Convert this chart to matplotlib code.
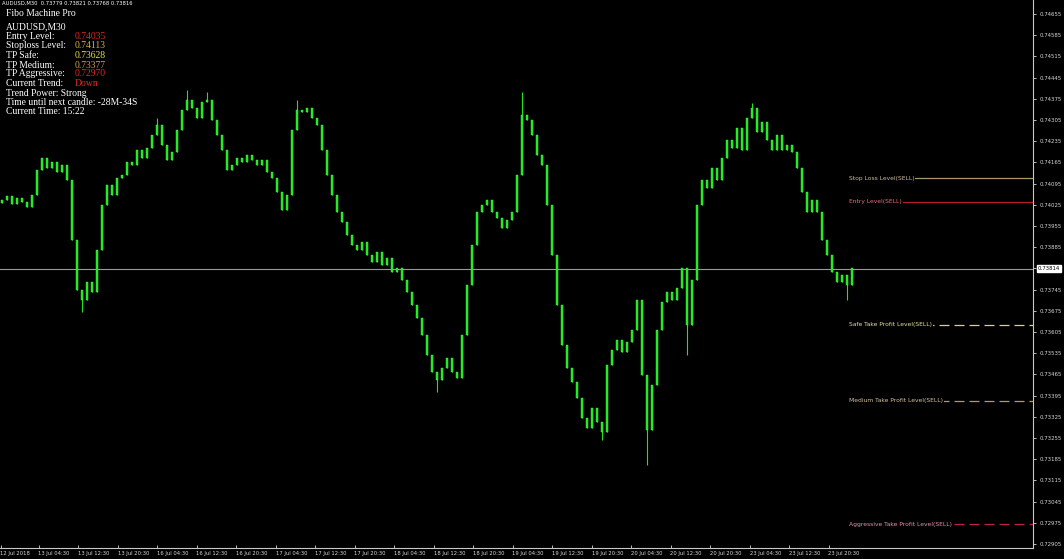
import matplotlib
matplotlib.use("Agg")
import matplotlib.pyplot as plt
import matplotlib.transforms as mtransforms
import numpy as np

# ---------------- data ----------------
symbol_header = "AUDUSD,M30  0.73779 0.73821 0.73768 0.73816"

# close prices (in points, price * 1e5), one per candle
closes_pts = [
    74041, 74054, 74027, 74047, 74034, 74018, 74057, 74140, 74179, 74146,
    74166, 74133, 74156, 74107, 73909, 73743, 73710, 73770, 73737, 73876,
    74024, 74090, 74057, 74113, 74123, 74166, 74156, 74206, 74179, 74212,
    74255, 74288, 74222, 74173, 74199, 74272, 74338, 74371, 74344, 74311,
    74364, 74371, 74305, 74255, 74206, 74140, 74156, 74179, 74166, 74189,
    74173, 74156, 74173, 74133, 74113, 74067, 74008, 74057, 74272, 74338,
    74331, 74344, 74311, 74288, 74206, 74123, 74057, 74001, 73968, 73925,
    73892, 73876, 73902, 73859, 73836, 73869, 73826, 73849, 73803, 73816,
    73776, 73737, 73694, 73651, 73595, 73529, 73473, 73446, 73486, 73519,
    73473, 73453, 73595, 73760, 73892, 74001, 74024, 74041, 74001, 73981,
    73948, 73975, 74001, 74123, 74321, 74305, 74255, 74189, 74156, 74024,
    73859, 73694, 73562, 73486, 73440, 73387, 73321, 73288, 73354, 73308,
    73275, 73496, 73545, 73578, 73539, 73572, 73611, 73710, 73463, 73281,
    73430, 73611, 73704, 73737, 73710, 73750, 73816, 73628, 73776, 74024,
    74107, 74080, 74146, 74107, 74179, 74239, 74212, 74278, 74206, 74311,
    74344, 74265, 74298, 74239, 74206, 74255, 74206, 74222, 74199, 74146,
    74067, 74001, 74041, 74001, 73909, 73859, 73803, 73770, 73793, 73760,
    73816,
]
# notable wick extremes (candle index -> price points)
spike_highs = {31: 74311, 37: 74404, 41: 74397, 59: 74371, 104: 74397, 150: 74361}
spike_lows = {16: 73671, 87: 73407, 120: 73248, 129: 73166, 137: 73529, 169: 73710}

current_price = 0.73814

level_names = ["Stop Loss Level(SELL)", "Entry Level(SELL)", "Safe Take Profit Level(SELL)",
               "Medium Take Profit Level(SELL)", "Aggressive Take Profit Level(SELL)"]
level_values = [0.74113, 0.74035, 0.73628, 0.73377, 0.72970]
level_colors = ["#a89868", "#b81c2c", "#d8d08c", "#b8966c", "#c02050"]
level_text_colors = ["#c8bc98", "#e07080", "#e8e0a0", "#d8c0a0", "#e890b0"]
level_styles = ["-", "-", (0, (8, 4)), (0, (8, 4)), (0, (8, 4))]

time_labels = ["12 Jul 2018", "13 Jul 04:30", "13 Jul 12:30", "13 Jul 20:30", "16 Jul 04:30",
               "16 Jul 12:30", "16 Jul 20:30", "17 Jul 04:30", "17 Jul 12:30", "17 Jul 20:30",
               "18 Jul 04:30", "18 Jul 12:30", "18 Jul 20:30", "19 Jul 04:30", "19 Jul 12:30",
               "19 Jul 20:30", "20 Jul 04:30", "20 Jul 12:30", "20 Jul 20:30", "23 Jul 04:30",
               "23 Jul 12:30", "23 Jul 20:30"]

info_labels = ["AUDUSD,M30", "Entry Level:", "Stoploss Level:", "TP Safe:", "TP Medium:",
               "TP Aggressive:", "Current Trend:", "Trend Power: Strong",
               "Time until next candle: -28M-34S", "Current Time: 15:22"]
info_values = ["", "0.74035", "0.74113", "0.73628", "0.73377", "0.72970", "Down", "", "", ""]
info_value_colors = ["white", "#e02828", "#d8b040", "#e8e048", "#d0a050", "#e02828", "#e02828",
                     "white", "white", "white"]

# ---------------- figure ----------------
W, H = 1064, 559
fig = plt.figure(figsize=(W / 100, H / 100), dpi=100, facecolor="black")
ax = fig.add_axes([0, 11 / H, 1033 / W, 548 / H], facecolor="black")

closes = np.array(closes_pts) / 1e5
opens = np.concatenate([[closes[0] - 0.00010], closes[:-1]])
n = len(closes)
idx = np.arange(n)
highs = np.maximum(opens, closes)
lows = np.minimum(opens, closes)
for k, v in spike_highs.items():
    highs[k] = max(highs[k], v / 1e5)
for k, v in spike_lows.items():
    lows[k] = min(lows[k], v / 1e5)

green = "#1ee61e"
ax.vlines(idx, lows, highs, color=green, linewidth=0.8, zorder=3)
body_h = np.maximum(np.abs(closes - opens), 0.00002)
ax.bar(idx, body_h, bottom=np.minimum(opens, closes), width=0.4, color=green,
       edgecolor="#40ff40", linewidth=0.3, zorder=4)

x_right = 206.2
ax.set_xlim(-0.4, x_right)
ax.set_ylim(0.728915, 0.74701)

# current price line
ax.axhline(current_price, color="#9a9a9a", linewidth=0.8, zorder=2)

# level lines with labels
lvl_x = 169.4
for name, val, col, tcol, ls in zip(level_names, level_values, level_colors,
                                     level_text_colors, level_styles):
    ax.plot([lvl_x, x_right], [val, val], color=col, linestyle=ls, linewidth=0.9, zorder=2)
    ax.text(lvl_x, val, name, color=tcol, fontsize=4.3, va="center", ha="left", zorder=5,
            bbox=dict(facecolor="black", edgecolor="none", pad=0.6))

# axes styling
for s in ["left", "top"]:
    ax.spines[s].set_visible(False)
for s in ["right", "bottom"]:
    ax.spines[s].set_color("#c8c8c8")
    ax.spines[s].set_linewidth(0.8)

yt = np.round(np.arange(0.72905, 0.74656, 0.0007), 5)
ax.yaxis.tick_right()
ax.set_yticks(yt)
ax.set_yticklabels([f"{v:.5f}" for v in yt])
ax.tick_params(axis="y", colors="#d8d8d8", labelsize=3.9, length=2, width=0.6, pad=2.5)

xt = [max((-1 + 39.5 * k - 2) / 5, -0.3) for k in range(len(time_labels))]
ax.set_xticks(xt)
ax.set_xticklabels(time_labels)
for lab in ax.get_xticklabels():
    lab.set_ha("left")
ax.tick_params(axis="x", colors="#d8d8d8", labelsize=3.8, length=2, width=0.6,
               direction="in", pad=2)

# current price box on the right axis
trans = mtransforms.blended_transform_factory(ax.transAxes, ax.transData)
ax.text(1.0045, current_price, f"{current_price:.5f}", transform=trans, fontsize=3.9,
        color="black", va="center", ha="left", zorder=6, clip_on=False,
        bbox=dict(facecolor="white", edgecolor="white", pad=0.8))

# header text
fig.text(2 / W, 1 - 3.5 / H, symbol_header, color="white", fontsize=3.8, va="center", ha="left")

# info panel
serif = ["Liberation Serif", "DejaVu Serif"]
fig.text(6 / W, 1 - 14 / H, "Fibo Machine Pro", color="white", fontsize=6.9,
         family=serif, va="center", ha="left")
ys = [27, 36.5, 46, 55.5, 65, 74, 83.5, 93, 102.5, 112]
for lab, val, vc, y in zip(info_labels, info_values, info_value_colors, ys):
    fig.text(6 / W, 1 - y / H, lab, color="white", fontsize=6.9, family=serif,
             va="center", ha="left")
    if val:
        fig.text(75 / W, 1 - y / H, val, color=vc, fontsize=6.9, family=serif,
                 va="center", ha="left")

fig.savefig("out.png", dpi=100, facecolor="black")
